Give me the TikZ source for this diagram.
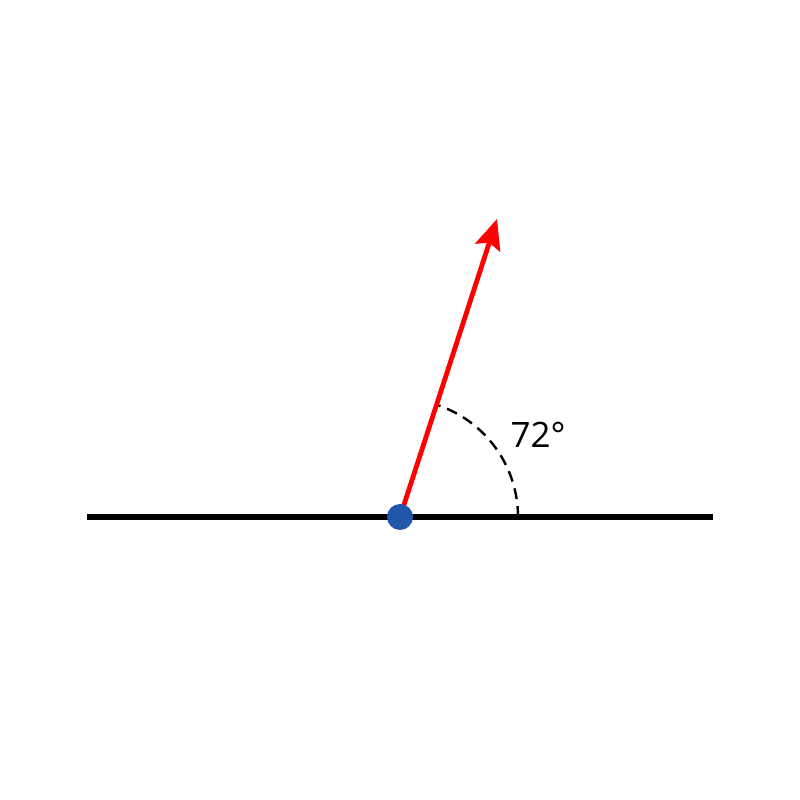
\documentclass[tikz,border=0pt]{standalone}
\usepackage{fontspec}
\setmainfont{Open Sans}
\usetikzlibrary{arrows.meta,calc}
\begin{document}
\begin{tikzpicture}[x=1pt,y=1pt,
  hline/.style={line width=6.5pt,black},
  vec/.style={line width=4.8pt,red,-{Stealth[length=30pt,width=26pt,inset=5pt]}},
  arcline/.style={line width=2.4pt,dash pattern=on 11pt off 7pt},
  pivot/.style={circle,fill={rgb,255:red,33;green,87;blue,171},minimum size=26pt,inner sep=0pt},
  lbl/.style={font=\fontsize{35}{42}\selectfont}]
\useasboundingbox (0,0) rectangle (800,800);
\coordinate (L) at (87,283);
\coordinate (R) at (713,283);
\coordinate (O) at (400,283);
\coordinate (T) at (497,581);
\draw[hline] (L) -- (R);
\draw[arcline] ($(O)+(118,0)$) arc[start angle=0,end angle=72,radius=118];
\draw[vec] (O) -- (T);
\node[pivot] (P) at (O) {};
\node[lbl] (A) at (538,365) {72°};
\end{tikzpicture}
\end{document}
